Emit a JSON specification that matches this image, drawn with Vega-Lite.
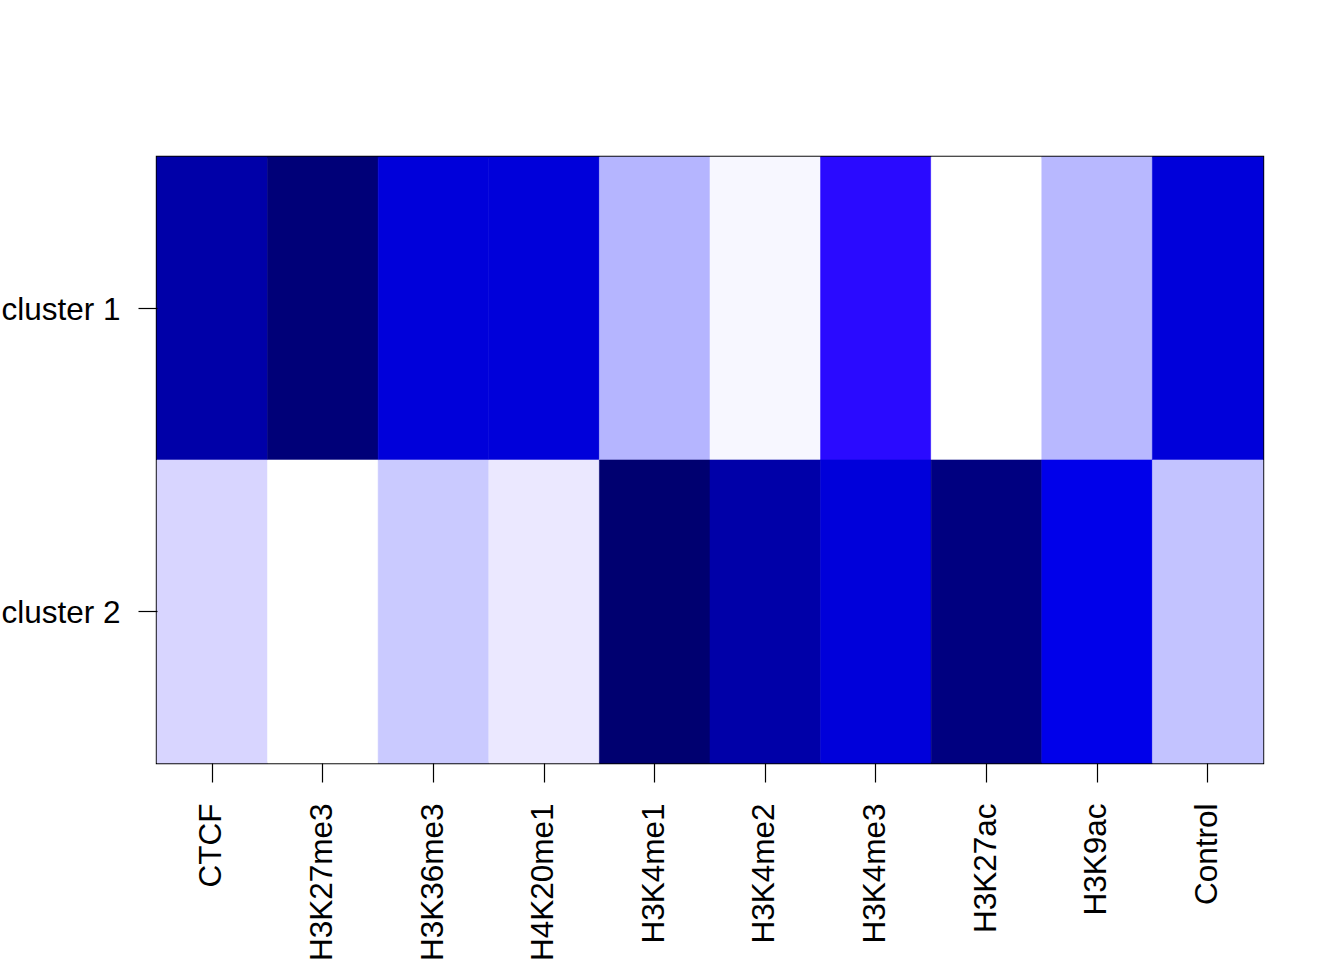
{
  "$schema": "https://vega.github.io/schema/vega-lite/v6.json",
  "width": 1106,
  "height": 606,
  "autosize": {"type": "none"},
  "padding": {"left": 157, "top": 157, "right": 81, "bottom": 197},
  "background": "white",
  "config": {
    "view": {"stroke": "black", "strokeWidth": 2.4},
    "font": "Liberation Sans",
    "axis": {
      "domain": false,
      "grid": false,
      "ticks": true,
      "tickSize": 19,
      "tickColor": "black",
      "tickWidth": 1.2,
      "labelFont": "Liberation Sans",
      "labelFontSize": 31.5,
      "labelColor": "black",
      "labelPadding": 21,
      "title": null
    }
  },
  "data": {
    "values": [
      {"cluster": "cluster 1", "mark": "CTCF", "value": 11},
      {"cluster": "cluster 1", "mark": "H3K27me3", "value": 13},
      {"cluster": "cluster 1", "mark": "H3K36me3", "value": 10},
      {"cluster": "cluster 1", "mark": "H4K20me1", "value": 10},
      {"cluster": "cluster 1", "mark": "H3K4me1", "value": 7},
      {"cluster": "cluster 1", "mark": "H3K4me2", "value": 1},
      {"cluster": "cluster 1", "mark": "H3K4me3", "value": 8},
      {"cluster": "cluster 1", "mark": "H3K27ac", "value": 0},
      {"cluster": "cluster 1", "mark": "H3K9ac", "value": 6},
      {"cluster": "cluster 1", "mark": "Control", "value": 10},
      {"cluster": "cluster 2", "mark": "CTCF", "value": 3},
      {"cluster": "cluster 2", "mark": "H3K27me3", "value": 0},
      {"cluster": "cluster 2", "mark": "H3K36me3", "value": 4},
      {"cluster": "cluster 2", "mark": "H4K20me1", "value": 2},
      {"cluster": "cluster 2", "mark": "H3K4me1", "value": 14},
      {"cluster": "cluster 2", "mark": "H3K4me2", "value": 11},
      {"cluster": "cluster 2", "mark": "H3K4me3", "value": 10},
      {"cluster": "cluster 2", "mark": "H3K27ac", "value": 12},
      {"cluster": "cluster 2", "mark": "H3K9ac", "value": 9},
      {"cluster": "cluster 2", "mark": "Control", "value": 5}
    ]
  },
  "mark": {"type": "rect", "strokeWidth": 0.6},
  "encoding": {
    "x": {
      "field": "mark",
      "type": "nominal",
      "sort": ["CTCF", "H3K27me3", "H3K36me3", "H4K20me1", "H3K4me1", "H3K4me2", "H3K4me3", "H3K27ac", "H3K9ac", "Control"],
      "scale": {"paddingInner": 0, "paddingOuter": 0},
      "axis": {"labelAngle": -90, "orient": "bottom"}
    },
    "y": {
      "field": "cluster",
      "type": "nominal",
      "sort": ["cluster 1", "cluster 2"],
      "scale": {"paddingInner": 0, "paddingOuter": 0},
      "axis": {"orient": "left", "labelOffset": 2, "labelPadding": 18}
    },
    "color": {
      "field": "value",
      "type": "ordinal",
      "scale": {
        "domain": [0, 1, 2, 3, 4, 5, 6, 7, 8, 9, 10, 11, 12, 13, 14],
        "range": ["#FFFFFF", "#F7F7FF", "#EBE8FF", "#D8D5FF", "#CACAFF", "#C3C3FF", "#B8B8FF", "#B5B5FF", "#2A0AFF", "#0000EA", "#0000DA", "#0000A8", "#000080", "#000078", "#000070"]
      },
      "legend": null
    },
    "stroke": {
      "field": "value",
      "type": "ordinal",
      "scale": {
        "domain": [0, 1, 2, 3, 4, 5, 6, 7, 8, 9, 10, 11, 12, 13, 14],
        "range": ["#FFFFFF", "#F7F7FF", "#EBE8FF", "#D8D5FF", "#CACAFF", "#C3C3FF", "#B8B8FF", "#B5B5FF", "#2A0AFF", "#0000EA", "#0000DA", "#0000A8", "#000080", "#000078", "#000070"]
      },
      "legend": null
    }
  }
}
